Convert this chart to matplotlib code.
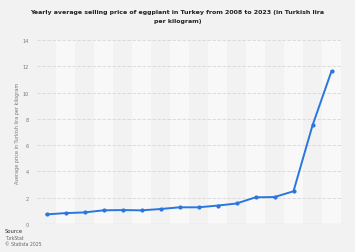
import matplotlib
matplotlib.use("Agg")
import matplotlib.pyplot as plt

years = list(range(2008, 2024))
prices = [0.73, 0.83, 0.88, 1.04, 1.06, 1.04, 1.14, 1.27, 1.27, 1.40, 1.56, 2.03, 2.05, 2.49, 7.5, 11.63]
yticks = [0, 2, 4, 6, 8, 10, 12, 14]

bg = "#f2f2f2"
fig = plt.figure(figsize=(3.55, 2.53), dpi=100, facecolor=bg)
ax = fig.add_axes([37/355, 28/253, 304/355, 184/253])
ax.set_facecolor(bg)

for y in years:
    if y % 2 == 1:
        ax.axvspan(y - 0.5, y + 0.5, color="#f8f8f8", zorder=0, lw=0)

for t in yticks[1:]:
    ax.axhline(t, color="#d6d6d6", lw=0.6, ls=(0, (4, 2)), zorder=1)
ax.axhline(0, color="#b5b5b5", lw=0.8, zorder=1)

ax.plot(years, prices, color="#2a76dd", lw=1.4, marker="o", ms=2.0, zorder=3)

ax.set_xlim(2007.5, 2023.5)
ax.set_ylim(0, 14)
ax.set_yticks(yticks)
ax.set_yticklabels([str(t) for t in yticks], fontsize=3.5, color="#777777")
ax.set_xticks([])
ax.tick_params(axis="y", length=0, pad=6)
for s in ax.spines.values():
    s.set_visible(False)
ax.set_ylabel("Average price in Turkish lira per kilogram", fontsize=3.5, color="#777777", labelpad=2)

fig.text(0.5, 0.96, "Yearly average selling price of eggplant in Turkey from 2008 to 2023 (in Turkish lira\nper kilogram)",
         ha="center", va="top", fontsize=4.5, fontweight="bold", color="#222222", linespacing=2.0)

fig.text(0.013, 0.095, "Source", fontsize=3.8, color="#333333", va="top")
fig.text(0.013, 0.068, "TurkStat", fontsize=3.3, color="#666666", va="top")
fig.text(0.013, 0.042, "© Statista 2025", fontsize=3.3, color="#666666", va="top")

fig.savefig("out.png", dpi=100, facecolor=bg)
